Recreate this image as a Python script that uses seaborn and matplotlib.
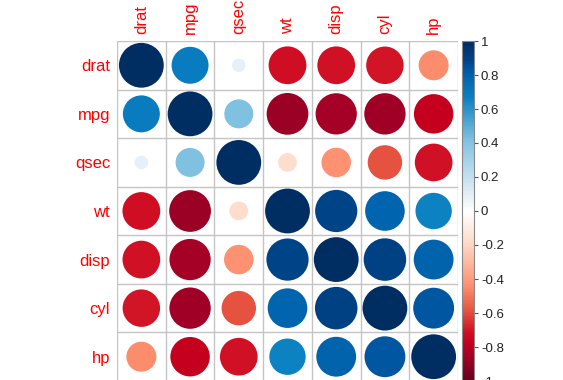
import numpy as np
import pandas as pd
import matplotlib
matplotlib.use("Agg")
import matplotlib.pyplot as plt
import seaborn as sns
from matplotlib.colors import LinearSegmentedColormap, Normalize
from matplotlib.cm import ScalarMappable

# variables in hclust order
variables = ["drat", "mpg", "qsec", "wt", "disp", "cyl", "hp"]

# correlation rows (mtcars)
r_drat = [1.000, 0.681, 0.091, -0.712, -0.710, -0.700, -0.449]
r_mpg = [0.681, 1.000, 0.419, -0.868, -0.848, -0.852, -0.776]
r_qsec = [0.091, 0.419, 1.000, -0.175, -0.434, -0.591, -0.708]
r_wt = [-0.712, -0.868, -0.175, 1.000, 0.888, 0.782, 0.659]
r_disp = [-0.710, -0.848, -0.434, 0.888, 1.000, 0.902, 0.791]
r_cyl = [-0.700, -0.852, -0.591, 0.782, 0.902, 1.000, 0.832]
r_hp = [-0.449, -0.776, -0.708, 0.659, 0.791, 0.832, 1.000]

cbar_ticks = [-1, -0.8, -0.6, -0.4, -0.2, 0, 0.2, 0.4, 0.6, 0.8, 1]

corr = pd.DataFrame([r_drat, r_mpg, r_qsec, r_wt, r_disp, r_cyl, r_hp],
                    index=variables, columns=variables)

long = corr.reset_index().melt(id_vars="index", var_name="col", value_name="r")
long = long.rename(columns={"index": "row"})
long["x"] = long["col"].map({v: i for i, v in enumerate(variables)})
long["y"] = long["row"].map({v: i for i, v in enumerate(variables)})
long["absr"] = long["r"].abs()

# red-white-blue ramp, colours
cmap = LinearSegmentedColormap.from_list("corrRdBu", [
    (0.000, "#67001F"), (0.075, "#A50026"), (0.110, "#C4001E"),
    (0.145, "#D01024"), (0.205, "#E5533F"), (0.280, "#FD9070"),
    (0.410, "#FEDCCB"), (0.500, "#FFFFFF"), (0.545, "#E5F0F8"),
    (0.710, "#80C0E0"), (0.835, "#0A80C2"), (0.890, "#0068B0"),
    (0.915, "#0058A2"), (0.945, "#004488"), (1.000, "#002D62")])

plt.rcParams["font.family"] = ["Liberation Sans", "DejaVu Sans"]

fig = plt.figure(figsize=(5.63, 3.80), dpi=100)
ax = fig.add_axes([117 / 563, 1 - 381 / 380, 341 / 563, 340 / 380])

sns.scatterplot(data=long, x="x", y="y", hue="r", palette=cmap, hue_norm=(-1, 1),
                size="absr", size_norm=(0, 1), sizes=(0, 1040),
                linewidth=0, legend=False, ax=ax)

n = len(variables)
for k in range(n + 1):
    ax.axhline(k - 0.5, color="#C4C4C4", lw=1, zorder=0)
    ax.axvline(k - 0.5, color="#C4C4C4", lw=1, zorder=0)

ax.set_xlim(-0.5, n - 0.5)
ax.set_ylim(n - 0.5, -0.5)
ax.set_xticks(range(n))
ax.set_yticks(range(n))
ax.set_xticklabels(variables, rotation=90, color="red", fontsize=12)
ax.set_yticklabels(variables, color="red", fontsize=12)
ax.xaxis.tick_top()
ax.tick_params(length=0, pad=5)
ax.set_xlabel("")
ax.set_ylabel("")
for s in ax.spines.values():
    s.set_visible(False)

cax = fig.add_axes([462 / 563, 1 - 381 / 380, 12 / 563, 340 / 380])
sm = ScalarMappable(norm=Normalize(-1, 1), cmap=cmap)
cb = fig.colorbar(sm, cax=cax)
cb.set_ticks(cbar_ticks)
cb.set_ticklabels([f"{t:g}" for t in cbar_ticks])
cb.outline.set_edgecolor("#888888")
cb.outline.set_linewidth(0.8)
cax.tick_params(length=3, width=0.8, color="#555555", labelsize=9.5, pad=2,
                labelcolor="#222222")

fig.savefig("out.png", dpi=100)
